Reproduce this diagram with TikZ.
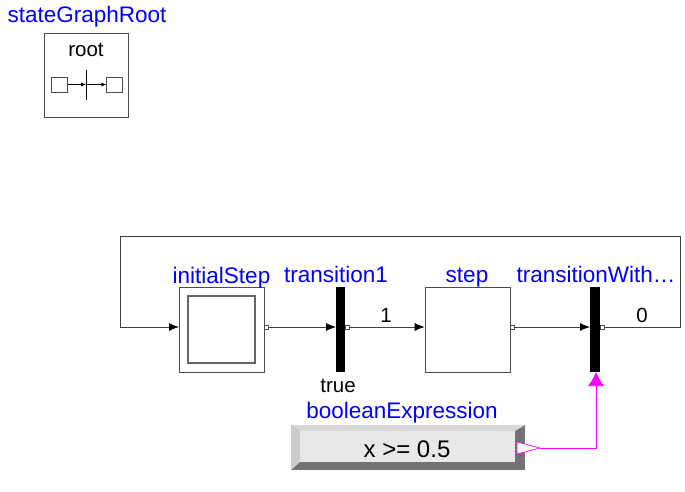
\documentclass[tikz,border=0pt]{standalone}
\usepackage{fontspec}
\setmainfont{Liberation Sans}
\usetikzlibrary{arrows.meta}
\definecolor{lblue}{RGB}{0,0,255}
\definecolor{mag}{RGB}{255,0,255}
\begin{document}
\begin{tikzpicture}[x=1pt,y=-1pt,
  lbl/.style={text=lblue,font=\fontsize{22.5}{22.5}\selectfont,inner sep=0},
  txt/.style={font=\fontsize{20.5}{20.5}\selectfont,inner sep=0},
  wire/.style={draw=black!75,line width=0.8pt},
  arr/.style={wire,-{Latex[length=10pt,width=8pt,color=black]}},
  port/.style={draw=black!70,fill=white,line width=0.5pt,minimum size=4pt,inner sep=0}]
\useasboundingbox (0,0) rectangle (685,492);
% root
\node[lbl] (rl) at (87,17) {stateGraphRoot};
\draw[black!70,line width=0.7pt] (44,33) rectangle (128,117);
\node[txt] (rt) at (86,50) {root};
\node[draw=black!70,fill=white,minimum width=16pt,minimum height=15pt,inner sep=0] (rs1) at (59.5,84.5) {};
\node[draw=black!70,fill=white,minimum width=16pt,minimum height=15pt,inner sep=0] (rs2) at (114.5,84.5) {};
\coordinate (rm) at (86,84.5);
\draw[black] (86,70) -- (86,100);
\draw[-{Latex[length=5pt,width=4pt]}] (rs1) -- (rm);
\draw[-{Latex[length=5pt,width=4pt]}] (rm) -- (rs2);
% initial step
\node[draw=black!70,line width=0.7pt,minimum size=85pt,inner sep=0] (is) at (221.5,329.5) {};
\draw[black!60,line width=1.2pt] (188,296) rectangle (255,363);
\node[lbl,anchor=base] (isl) at (221.5,283) {initialStep};
\node[port] (isp) at (266,327) {};
% transition1
\node[fill=black,minimum width=9pt,minimum height=85pt,inner sep=0] (t1) at (340.5,329.5) {};
\node[lbl,anchor=base] (t1l) at (336,282) {transition1};
\node[txt] (t1t) at (338,386) {true};
\node[port] (t1p) at (347,327) {};
% step
\node[draw=black!70,line width=0.7pt,minimum size=85pt,inner sep=0] (st) at (467.5,329.5) {};
\node[lbl,anchor=base] (stl) at (467,282) {step};
\node[port] (stp) at (512,327) {};
% transition with
\node[fill=black,minimum width=10pt,minimum height=85pt,inner sep=0] (t2) at (595,329.5) {};
\node[lbl,anchor=base] (t2l) at (596,282) {transitionWith…};
\node[port] (t2p) at (602,327) {};
% connections
\draw[arr] (isp.east) -- (336,327);
\draw[arr] (t1p.east) -- (st.west |- 0,327);
\node[txt] (one) at (386,315) {1};
\draw[arr] (stp.east) -- (590,327);
\draw[arr] (t2p.east) -- (680,327) -- (680,236) -- (120,236) -- (120,327) -- (179,327);
\node[txt] (zero) at (642,315) {0};
% boolean expression
\fill[black!55] (291,425) rectangle (525,470);
\fill[black!15] (291,425) -- (525,425) -- (515,431) -- (300,431) -- cycle;
\fill[black!20] (291,425) -- (300,431) -- (300,462) -- (291,470) -- cycle;
\node[fill=black!9,minimum width=215pt,minimum height=31pt,inner sep=0] (be) at (407.5,446.5) {};
\node[txt,font=\fontsize{24}{24}\selectfont] (bet) at (407,449) {x >= 0.5};
\node[lbl,anchor=base] (bel) at (402,418) {booleanExpression};
\draw[mag,line width=0.7pt,fill=white] (517,442) -- (540,448) -- (517,454) -- cycle;
\draw[mag,line width=0.7pt,-{Latex[length=14pt,width=16pt]}] (540,448) -- (596,448) -- (596,372);
\end{tikzpicture}
\end{document}
